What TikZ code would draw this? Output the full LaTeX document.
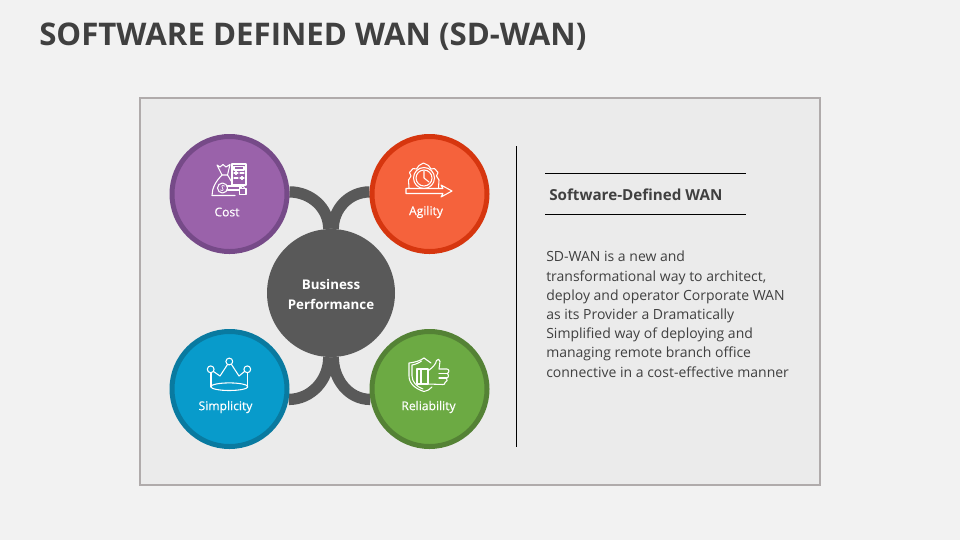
\documentclass[tikz,border=0pt]{standalone}
\usepackage{xcolor}
\usepackage{fontspec}
\setmainfont{Open Sans}
\usetikzlibrary{positioning, backgrounds}
\definecolor{pagegray}{RGB}{242, 242, 242}
\definecolor{panelgray}{RGB}{235, 235, 235}
\definecolor{panelline}{RGB}{176, 171, 171}
\definecolor{hubgray}{RGB}{89, 89, 89}
\definecolor{inkgray}{RGB}{64, 64, 64}
\definecolor{costfill}{RGB}{154, 98, 170}
\definecolor{costline}{RGB}{118, 74, 136}
\definecolor{agilefill}{RGB}{245, 98, 60}
\definecolor{agileline}{RGB}{214, 54, 15}
\definecolor{simplefill}{RGB}{8, 155, 203}
\definecolor{simpleline}{RGB}{9, 122, 160}
\definecolor{relyfill}{RGB}{108, 170, 67}
\definecolor{relyline}{RGB}{84, 130, 53}

\begin{document}
\begin{tikzpicture}[
    x=0.75pt, y=-0.75pt,
    petal/.style={circle, line width=3.75pt, minimum size=86.25pt, inner sep=0pt},
    hubnode/.style={circle, fill=hubgray, minimum size=96pt, inner sep=0pt},
    hubtext/.style={inner sep=0pt, text=white, align=center, font=\fontsize{10}{14.3}\selectfont\bfseries},
    tag/.style={text=white, inner sep=0pt, font=\fontsize{9.1}{10}\selectfont\addfontfeature{FakeBold=0.4}},
    link/.style={draw=hubgray, line width=8.5pt},
    rulehead/.style={draw=black, line width=0.75pt},
    icon/.style={draw=white, line width=0.8pt, line join=round, line cap=round}
]
    % panel and text
    \node[inner sep=0pt, anchor=west, text=inkgray, font=\fontsize{23.4}{26}\selectfont\bfseries] (title) at (39,37) {SOFTWARE DEFINED WAN (SD-WAN)};

    \node[petal, draw=costline, fill=costfill] (cost) at (229.5,194) {};
    \node[petal, draw=agileline, fill=agilefill] (agility) at (429.5,194) {};
    \node[petal, draw=simpleline, fill=simplefill] (simplicity) at (229.5,389) {};
    \node[petal, draw=relyline, fill=relyfill] (reliability) at (429.5,389) {};
    \node[hubnode] (hub) at (331,293) {};
    \node[hubtext] (hubtag) at (331,294.5) {Business\\Performance};

    \node[tag] (costtag) at (227,212) {Cost};
    \node[tag] (agilitytag) at (426,212) {Agility};
    \node[tag] (simplicitytag) at (225.5,407) {Simplicity};
    \node[tag] (reliabilitytag) at (428.5,407) {Reliability};

    \begin{scope}[on background layer]
        \fill[pagegray] (0,0) rectangle (960,540);
        \draw[fill=panelgray, draw=panelline, line width=1.5pt] (140,98) rectangle (820,485);
        \draw[link] (cost.2) to[out=0, in=90] (hub.92);
        \draw[link] (agility.178) to[out=180, in=90] (hub.88);
        \draw[link] (simplicity.-10) to[out=0, in=-90] (hub.-92);
        \draw[link] (reliability.190) to[out=180, in=-90] (hub.-88);
    \end{scope}

    \coordinate (sepA) at (516.5,146);
    \coordinate (sepB) at (516.5,447);
    \draw[rulehead] (sepA) -- (sepB);
    \coordinate (ruleA) at (545,173.5);
    \coordinate (ruleB) at (746,173.5);
    \coordinate (ruleC) at (545,214.5);
    \coordinate (ruleD) at (746,214.5);
    \draw[rulehead] (ruleA) -- (ruleB);
    \draw[rulehead] (ruleC) -- (ruleD);

    \node[inner sep=0pt, anchor=west, text=inkgray, font=\fontsize{11.4}{13}\selectfont\bfseries] (heading) at (549,194.5) {Software-Defined WAN};
    \node[inner sep=0pt, anchor=north west, align=left, text=inkgray, font=\fontsize{10.5}{14.4}\selectfont] (body) at (546,251) {SD-WAN is a new and\\transformational way to architect,\\deploy and operator Corporate WAN\\as its Provider a Dramatically\\Simplified way of deploying and\\managing remote branch office\\connective in a cost-effective manner};

    % cost icon
    \draw[icon] (232,164) rectangle (246,185);
    \draw[icon] (234,166.5) rectangle (244,170);
    \draw[icon] (234,173) -- (238,173) (236,171.5) -- (236,174.5) (240,173) -- (244,173);
    \draw[icon] (234,178) -- (238,178) (240,178) -- (244,178) (242,176.5) -- (242,179.5);
    \draw[icon] (217,165) -- (220,167) -- (223,164.5) -- (226,167) -- (230,164.5) -- (227.5,175) -- (222,175) -- cycle;
    \draw[icon] (222,175) .. controls (216,181) and (212,188) .. (212,195.5) -- (235,195.5) (227.5,175) .. controls (229,177) and (230,179) .. (231,181);
    \draw[icon, fill=costfill] (222.5,188) circle[radius=5];
    \draw[icon, line width=0.5pt] (224.5,186) .. controls (222,184.5) and (220.5,187) .. (222.5,188) .. controls (224.5,189) and (223,191.5) .. (220.5,190);
    \draw[icon] (227.5,186) -- (240,186) -- (240,190) -- (227.5,190);
    \draw[icon, fill=costfill] (239.5,188.5) rectangle (246,194.5);
    \draw[icon] (241,188.5) .. controls (241,185.5) and (244.5,185.5) .. (244.5,188.5);

    % agility icon
    \draw[icon] (409,188) -- (408.5,180) -- (411,176) -- (409.5,172.5) -- (413,168.5) -- (416.5,169) -- (419,165.5) -- (423.5,163) -- (428.5,165.5) -- (431,169) -- (434.5,168.5) -- (438,172.5) -- (436.5,176) -- (439,180) -- (438.5,188);
    \draw[icon] (424,178) circle[radius=10.5];
    \draw[icon] (424,178) circle[radius=8];
    \draw[icon] (424,171) -- (424,178) -- (429,182);
    \draw[icon, fill=agilefill] (406,188.5) -- (443,188.5) -- (441,185) -- (452,191) -- (441,197) -- (443,193.5) -- (406,193.5) -- cycle;

    % simplicity icon
    \draw[icon] (210.7,369.3) circle[radius=3.4];
    \draw[icon] (229.3,361.5) circle[radius=3.4];
    \draw[icon] (247.3,369.3) circle[radius=3.4];
    \draw[icon] (213.5,371.5) -- (220,376) -- (227.5,364.5);
    \draw[icon] (231.5,364.5) -- (239,376) -- (244.5,371.5);
    \draw[icon] (211,372.7) -- (211,387);
    \draw[icon] (247.7,372.7) -- (247.7,387);
    \draw[icon] (229.3,386.7) ellipse[x radius=18.5, y radius=3.8];

    % reliability icon
    \draw[icon] (424,358) .. controls (420,361) and (414,362.5) .. (409,363) -- (409,376) .. controls (409,384) and (416,389) .. (424,391.5) .. controls (427,391) and (430,389.5) .. (432,387);
    \draw[icon] (421.5,361) .. controls (419,363) and (415,364.5) .. (412,365) -- (412,376) .. controls (412,382) and (417,387) .. (423,389);
    \draw[icon] (424,358) -- (431,363);
    \draw[icon] (417,369) rectangle (428,384);
    \draw[icon] (421,369) -- (421,384);
    \draw[icon] (428,371) .. controls (433,367) and (436,364) .. (436.5,360.5) .. controls (437.5,358.5) and (440,359) .. (440,361.5) -- (439,369) -- (447,369) .. controls (449.5,369) and (449.5,373) .. (447,373.5) .. controls (449,374) and (449,378) .. (446.5,378) .. controls (448,379) and (447,382.5) .. (445,382.5) .. controls (445.5,384) and (444,384.5) .. (443,384.5) -- (428,384);
    \draw[icon] (439,373.5) -- (447,373.5) (439,378) -- (446.5,378);
\end{tikzpicture}
\end{document}
